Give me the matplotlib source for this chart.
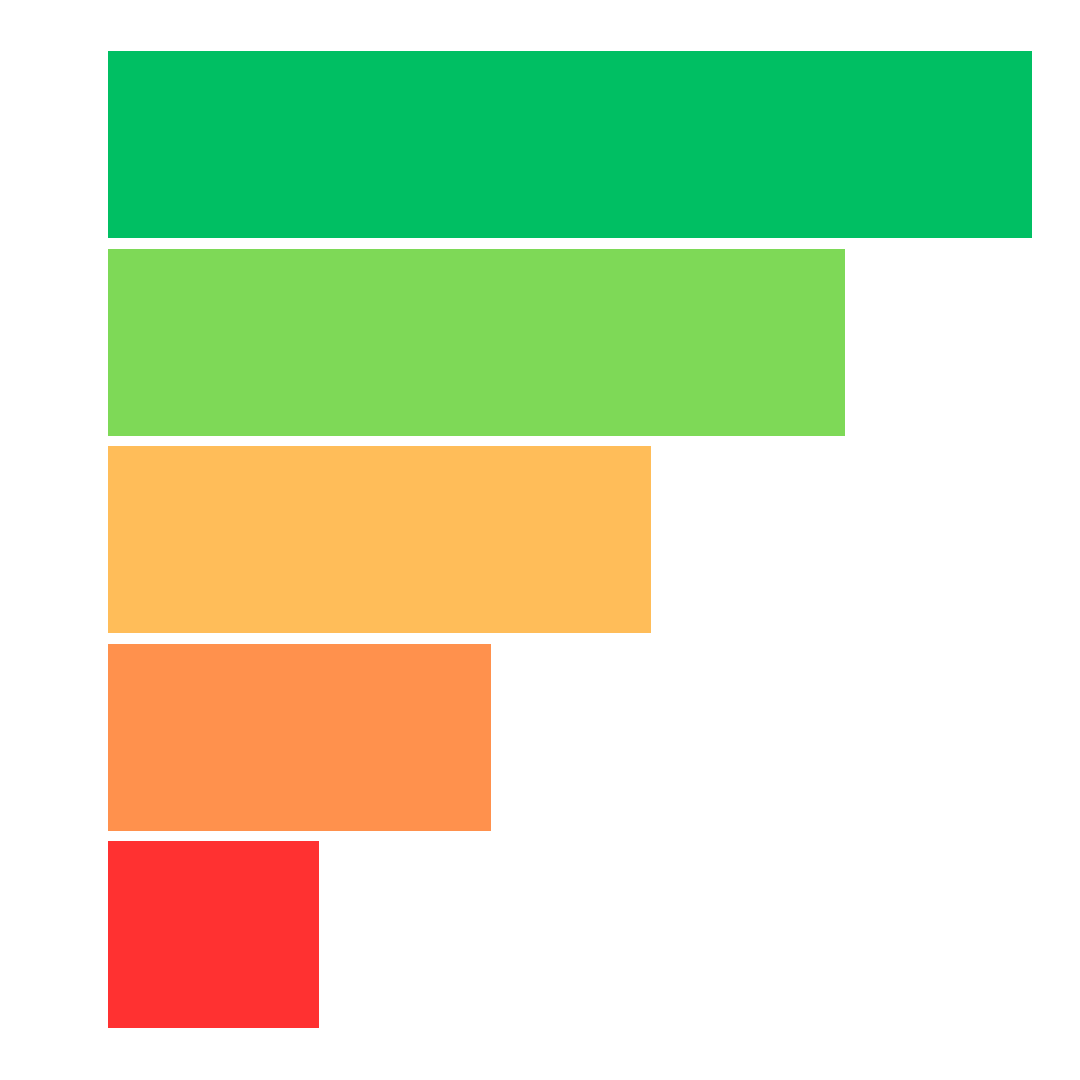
import matplotlib
matplotlib.use("Agg")
import matplotlib.pyplot as plt

categories = ["Stage 1", "Stage 2", "Stage 3", "Stage 4", "Stage 5"]
values = [100, 79.8, 58.8, 41.5, 22.8]
colors = ["#00BF63", "#7ED957", "#FFBD59", "#FF914D", "#FF3131"]

fig = plt.figure(figsize=(10.8, 10.8), dpi=100)
ax = fig.add_axes([108 / 1080, 1 - 1028.3 / 1080, 924 / 1080, (1028.3 - 51) / 1080])
ypos = list(range(len(categories)))
ax.barh(ypos, values, height=0.948, color=colors, linewidth=0)
ax.set_xlim(0, max(values))
ax.set_ylim(len(categories) - 1 + 0.474, -0.474)
ax.axis("off")
fig.savefig("out.png", dpi=100, facecolor="white")
